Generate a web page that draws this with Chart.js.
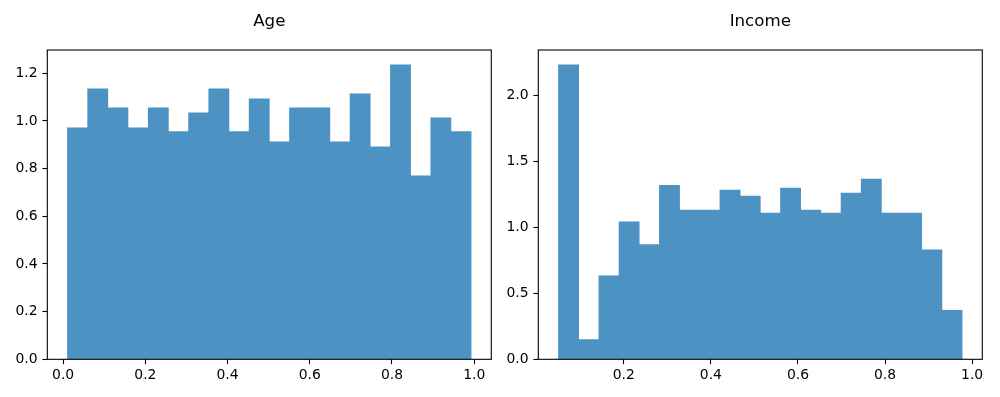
<!DOCTYPE html>
<html>
<head>
<meta charset="utf-8">
<script src="https://cdn.jsdelivr.net/npm/chart.js@4"></script>
<style>
  html, body { margin: 0; padding: 0; background: #fff; }
  #wrap { position: relative; width: 1000px; height: 397px; }
  .cell { position: absolute; top: 0; width: 500px; height: 397px; }
</style>
</head>
<body>
<div id="wrap">
  <div class="cell" style="left:0"><canvas id="age" width="500" height="397"></canvas></div>
  <div class="cell" style="left:500px"><canvas id="income" width="500" height="397"></canvas></div>
</div>
<script>
// ---- data ----
const ageTitle = "Age";
const ageBinStart = 0.0105;
const ageBinWidth = 0.0491;
const ageDensity = [0.971, 1.135, 1.055, 0.971, 1.055, 0.955, 1.034, 1.135, 0.955, 1.093,
                    0.913, 1.055, 1.055, 0.913, 1.114, 0.892, 1.236, 0.770, 1.013, 0.955];
const ageXTicks = [0.0, 0.2, 0.4, 0.6, 0.8, 1.0];
const ageYTicks = [0.0, 0.2, 0.4, 0.6, 0.8, 1.0, 1.2];

const incomeTitle = "Income";
const incomeBinStart = 0.050;
const incomeBinWidth = 0.04635;
const incomeDensity = [2.230, 0.150, 0.631, 1.040, 0.868, 1.317, 1.129, 1.129, 1.281, 1.235,
                       1.106, 1.296, 1.129, 1.106, 1.258, 1.364, 1.106, 1.106, 0.828, 0.370];
const incomeXTicks = [0.2, 0.4, 0.6, 0.8, 1.0];
const incomeYTicks = [0.0, 0.5, 1.0, 1.5, 2.0];

// ---- rendering ----
const FONT = "'DejaVu Sans', sans-serif";
const boxPlugin = {
  id: 'box',
  afterDatasetsDraw(chart) {
    const a = chart.chartArea, ctx = chart.ctx;
    ctx.save();
    ctx.strokeStyle = '#000';
    ctx.lineWidth = 1.1;
    ctx.strokeRect(a.left, a.top, a.right - a.left, a.bottom - a.top);
    ctx.restore();
  }
};
const axTitlePlugin = {
  id: 'axTitle',
  afterDraw(chart, args, opts) {
    const a = chart.chartArea, ctx = chart.ctx;
    ctx.save();
    ctx.fillStyle = '#000';
    ctx.font = "16.67px " + FONT;
    ctx.textAlign = 'center';
    ctx.textBaseline = 'middle';
    ctx.fillText(opts.text, (a.left + a.right) / 2, 21.5);
    ctx.restore();
  }
};

function makeHist(id, title, start, width, dens, xt, yt, yAxisW, rightPad) {
  const pts = dens.map((d, i) => ({ x: start + (i + 0.5) * width, y: d }));
  const end = start + width * dens.length;
  const span = end - start;
  const xmin = start - 0.05 * span, xmax = end + 0.05 * span;
  const ymax = Math.max(...dens) * 1.05;
  const tickFont = { family: FONT, size: 13.9 };
  const grid = { display: true, offset: false, drawOnChartArea: false, drawTicks: true, tickLength: 4.9, tickWidth: 1.1, tickColor: '#000', color: '#000' };
  return new Chart(document.getElementById(id), {
    type: 'bar',
    data: { datasets: [{ data: pts, backgroundColor: 'rgb(76,146,195)', borderWidth: 0,
      barPercentage: 1.0, categoryPercentage: 1.0, grouped: false }] },
    options: {
      responsive: false, animation: false, devicePixelRatio: 1,
      layout: { padding: { left: 0, right: rightPad, top: 50, bottom: 0 } },
      plugins: {
        legend: { display: false }, tooltip: { enabled: false },
        title: { display: false },
        axTitle: { text: title }
      },
      scales: {
        x: { type: 'linear', min: xmin, max: xmax, offset: false,
          grid: grid, border: { display: false },
          afterBuildTicks: s => { s.ticks = xt.map(v => ({ value: v })); },
          afterFit: s => { s.height = 37.7; },
          ticks: { color: '#000', font: tickFont, padding: 3, maxRotation: 0, autoSkip: false,
            callback: v => Number(v).toFixed(1) } },
        y: { min: 0, max: ymax,
          grid: grid, border: { display: false },
          afterBuildTicks: s => { s.ticks = yt.map(v => ({ value: v })); },
          afterFit: s => { s.width = yAxisW; },
          ticks: { color: '#000', font: tickFont, padding: 4.9, autoSkip: false,
            callback: v => Number(v).toFixed(1) } }
      }
    },
    plugins: [boxPlugin, axTitlePlugin]
  });
}

makeHist('age', ageTitle, ageBinStart, ageBinWidth, ageDensity, ageXTicks, ageYTicks, 47.3, 8.7);
makeHist('income', incomeTitle, incomeBinStart, incomeBinWidth, incomeDensity, incomeXTicks, incomeYTicks, 38.3, 17.7);
</script>
</body>
</html>
